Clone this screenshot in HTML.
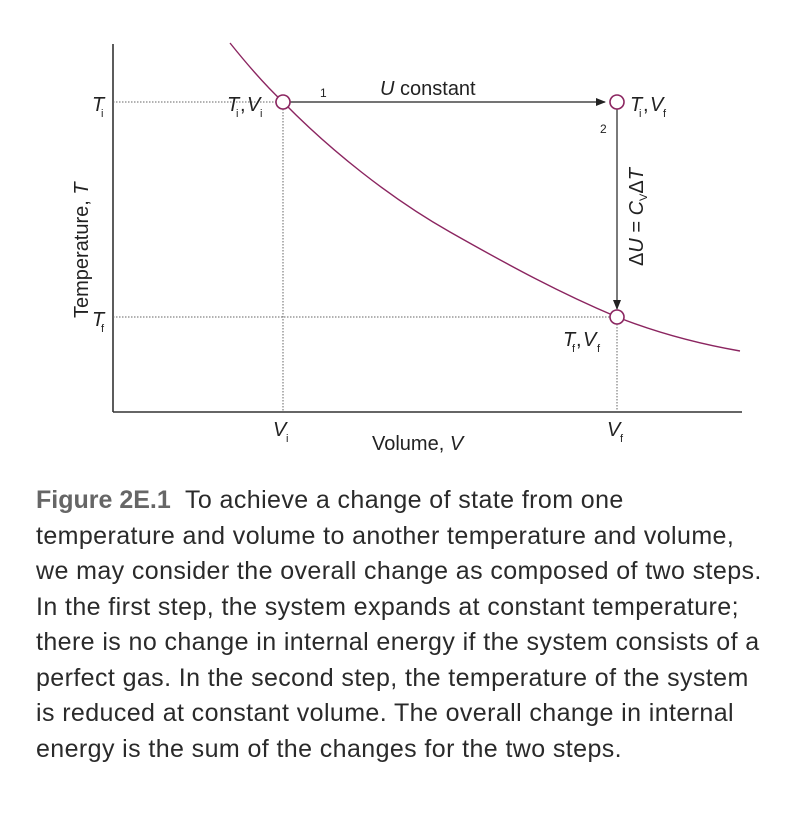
<!DOCTYPE html>
<html><head><meta charset="utf-8"><style>
body{margin:0;background:#fff;width:788px;height:820px;overflow:hidden;font-family:"Liberation Sans",sans-serif}
svg{position:absolute;left:0;top:0}
.cap{position:absolute;left:36px;top:483px;white-space:nowrap;font-size:25px;line-height:35.5px;color:#2a2a2a;letter-spacing:0.4px}
.cap b{color:#666;font-weight:bold;letter-spacing:0}
</style></head><body>
<svg width="788" height="470" viewBox="0 0 788 470" font-family="Liberation Sans, sans-serif" fill="#222">
<defs><marker id="a" markerWidth="10" markerHeight="8" refX="9" refY="4" orient="auto" markerUnits="userSpaceOnUse"><path d="M0,0L10,4L0,8z" fill="#222"/></marker></defs>
<line x1="113" y1="44" x2="113" y2="412" stroke="#333" stroke-width="1.6"/>
<line x1="113" y1="412" x2="742" y2="412" stroke="#333" stroke-width="1.6"/>
<g stroke="#666" stroke-width="1" stroke-dasharray="1.5,1.5">
<line x1="113" y1="102" x2="276" y2="102"/><line x1="113" y1="317" x2="610" y2="317"/>
<line x1="283" y1="109" x2="283" y2="412"/><line x1="617" y1="324" x2="617" y2="412"/>
</g>
<path d="M230,43 C250,68 265,85 283,102 C330,150 390,198 450,232 C510,266 560,293 617,317 C660,334 700,344 740,351" fill="none" stroke="#8b2560" stroke-width="1.4"/>
<line x1="290" y1="102" x2="605" y2="102" stroke="#222" stroke-width="1.2" marker-end="url(#a)"/>
<line x1="617" y1="109" x2="617" y2="309" stroke="#222" stroke-width="1.2" marker-end="url(#a)"/>
<circle cx="283" cy="102" r="7" fill="#fff" stroke="#8b2560" stroke-width="1.6"/>
<circle cx="617" cy="102" r="7" fill="#fff" stroke="#8b2560" stroke-width="1.6"/>
<circle cx="617" cy="317" r="7" fill="#fff" stroke="#8b2560" stroke-width="1.6"/>
<g font-size="20">
<text x="92" y="111" font-style="italic">T</text><text x="101" y="117" font-size="11">i</text>
<text x="92" y="326" font-style="italic">T</text><text x="101" y="332" font-size="11">f</text>
<text x="227" y="111" font-style="italic">T</text><text x="236" y="117" font-size="11">i</text><text x="240" y="111">,</text><text x="247" y="111" font-style="italic">V</text><text x="260" y="117" font-size="11">i</text>
<text x="630" y="111" font-style="italic">T</text><text x="639" y="117" font-size="11">i</text><text x="643" y="111">,</text><text x="650" y="111" font-style="italic">V</text><text x="663" y="117" font-size="11">f</text>
<text x="563" y="346" font-style="italic">T</text><text x="572" y="352" font-size="11">f</text><text x="576" y="346">,</text><text x="583" y="346" font-style="italic">V</text><text x="597" y="352" font-size="11">f</text>
<text x="273" y="436" font-style="italic">V</text><text x="286" y="442" font-size="11">i</text>
<text x="607" y="436" font-style="italic">V</text><text x="620" y="442" font-size="11">f</text>
<text x="380" y="95"><tspan font-style="italic">U</tspan> constant</text>
<text x="372" y="450">Volume, <tspan font-style="italic">V</tspan></text>
<text transform="translate(88,318) rotate(-90)">Temperature, <tspan font-style="italic">T</tspan></text>
<text transform="translate(643,266) rotate(-90)">Δ<tspan font-style="italic">U</tspan> = <tspan font-style="italic">C</tspan><tspan font-size="11" dy="4">V</tspan><tspan dy="-4">Δ</tspan><tspan font-style="italic">T</tspan></text>
</g>
<text x="320" y="97" font-size="12">1</text>
<text x="600" y="133" font-size="12">2</text>
</svg>
<div class="cap"><b>Figure 2E.1</b>&nbsp; To achieve a change of state from one<br>temperature and volume to another temperature and volume,<br>we may consider the overall change as composed of two steps.<br>In the first step, the system expands at constant temperature;<br>there is no change in internal energy if the system consists of a<br>perfect gas. In the second step, the temperature of the system<br>is reduced at constant volume. The overall change in internal<br>energy is the sum of the changes for the two steps.</div>
</body></html>
